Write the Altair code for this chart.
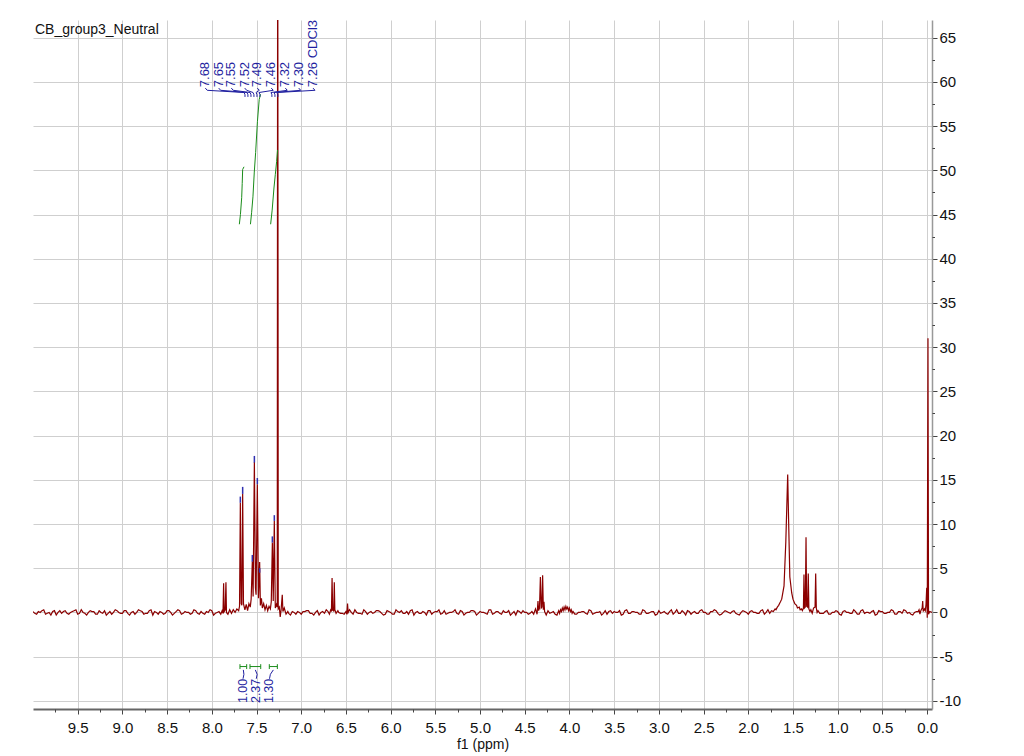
import altair as alt
import pandas as pd

FONT = "Liberation Sans"
RED = "#8b0000"
BLUE = "#1f1fa0"
GREEN = "#1a8c1a"

# ---------------- data ----------------
# baseline noise (tenths of an intensity unit), two interleaved samplings:
# list a at 10.00, 9.96, ... ppm; list b at 9.98, 9.94, ... ppm
base_start = 10.0
base_step = 0.04
base_noise_tenths_a = [
    1, -2, 0, 3, -1, -3, 2, 0, -1, 2, -2, 1, 3, -1, 0, -3, 2, 1, -2, 0, 2, -1, -2, 3, 0,
    -1, 2, -3, 1, 0, 2, -2, -1, 3, 1, -2, 0, -1, 2, -3, 1, 2, -1, 0, -2, 3, -1, 1, -2, 0,
    2, -1, -2, 1, 3, -2, 0, 1, -3, 2, 0, -1, 2, 1, -2, -1, 3, 0, -2, 1, -1, 2, -3, 0, 1,
    -2, 1, 2, -1, 0, -3, 1, 3, -2, 0, 1, -1, -2, 2, 0, 3, -1, -2, 1, 0, -1, 2, 1, -3, 2,
    0, -2, 1, 2, -1, -2, 3, 0, -1, 1, -3, 2, 0, 1, -2, 2, -1, 0, 3, -2, 1, -1, 0, 2, -3,
    1, 0, -2, 3, -1, 1, -2, 0, 2, -1, -3, 1, 2, 0, -1, 2, -2, 1, -1, 3, 0, -2, 1, -1, 2,
    -1, 3, -2, 0, 1, -2, 2, -1, 0, -3, 2, 1, -1, 0, 2, -2, 3, -1, 1, 0, -2, 2, -1, 1, -3,
    2, 0, -1, 1, -2, 3, -1, 0, 2, -2, 1, -1, 3, 0, -2, 1, 2, -3, 0, 1, -1, 2, -2, 0, 1,
    -2, 2, 0, -1, 3, -2, 1, 0, -1, 2, -3, 1, 0, 2, -1, -2, 3, 1, -2, 0, 1, -1, 2, -2, 0,
    1, -3, 2, 0, -1, 1, -2, 3, 0, -1, 2, -2, 1, -1, 0, 3, -2, 1, -1, 2, 0, -3, 1, 2, -1,
    0,
]
base_noise_tenths_b = [
    -1, 1, 2, -2, 0, 1, -3, 2, 1, -1, 0, 2, -2, 3, -1, 0, 1, -2, 2, -1, -3, 1, 0, 2, -1,
    2, -1, 0, -2, 3, 1, -1, 2, -3, 0, 1, -2, 2, 0, -1, 3, -2, 1, 0, -1, 2, -2, -1, 1, 3,
    -3, 0, 2, 1, -1, -2, 2, 0, -1, 3, -2, 1, 1, -1, 0, -2, 2, -3, 1, 0, 2, -1, 1, -2, 0,
    1, 2, -1, -3, 2, 0, -1, 1, 3, -2, 0, -1, 2, 1, -2, 0, -1, 3, -2, 1, 0, 2, -1, -2, 1,
    -2, 3, 0, -1, 1, 2, -3, 1, -1, 0, 2, -2, 1, 3, -1, -2, 0, 1, -1, 2, -3, 0, 2, 1, -1,
    0, -1, 3, -2, 1, -1, 2, 0, -3, 1, 2, -1, 0, -2, 3, 1, -1, 0, 2, -2, 1, -3, 2, 0, 1,
    2, -2, 0, 1, -1, 3, -2, 0, 1, -1, -2, 2, 1, 0, -3, 2, -1, 1, 0, -2, 3, -1, 0, 1, -2,
    -1, 1, -2, 3, 0, -1, 2, -3, 1, 0, -1, 2, 0, -2, 1, 3, -1, -2, 2, 0, 1, -1, -3, 2, 0,
    1, 0, -1, 2, -2, 1, 3, -1, 0, -2, 2, 1, -3, 0, 1, -1, 2, -2, 0, 3, -1, 1, -2, 0, 2,
    -2, 1, 0, -1, 3, -2, 2, -1, 0, 1, -3, 2, 1, -1, 0, 2, -2, 1, 3, -1, -2, 0, 1, -1, 2,
]

# aromatic region 7.92 - 7.15 ppm
arom_ppm = [7.92, 7.90, 7.885, 7.875, 7.868, 7.862, 7.85, 7.842, 7.836, 7.82, 7.80, 7.78,
            7.76, 7.74, 7.72, 7.70, 7.69, 7.681, 7.672, 7.664, 7.655, 7.646, 7.63, 7.615,
            7.60, 7.585, 7.57, 7.56, 7.547, 7.538, 7.524, 7.512, 7.505, 7.491, 7.478,
            7.465, 7.457, 7.445, 7.435, 7.42, 7.405, 7.39, 7.375, 7.36, 7.345, 7.335,
            7.323, 7.313, 7.301, 7.29, 7.278, 7.268, 7.263, 7.257, 7.245, 7.235, 7.225,
            7.212, 7.205, 7.19, 7.17, 7.15]
arom_val = [0.1, -0.2, 0.2, -0.1, 3.3, 0.1, 0.3, 3.4, 0.0, -0.2, 0.3, -0.1,
            0.3, 0.0, 0.4, 0.2, 0.7, 12.4, 1.0, 0.8, 13.4, 1.0, 0.3, 0.9,
            0.2, 1.0, 0.6, 1.5, 5.8, 1.8, 17.0, 2.8, 2.0, 14.5, 1.6,
            5.7, 0.8, 1.6, 0.5, 1.0, 0.3, 0.8, 0.2, 0.7, 0.4, 1.2,
            7.9, 1.3, 10.35, 0.5, 0.9, 0.6, 90.0, 0.4, 0.6, -0.5, 0.3,
            2.0, 0.1, 0.5, -0.2, 0.1]

d66_ppm = [6.70, 6.685, 6.67, 6.662, 6.655, 6.648, 6.64, 6.636, 6.630, 6.624, 6.61, 6.59]
d66_val = [0.1, -0.2, 0.3, 0.2, 3.9, 0.2, 0.4, 0.1, 3.4, 0.3, -0.1, 0.2]

s648_ppm = [6.50, 6.49, 6.482, 6.475, 6.46]
s648_val = [0.1, -0.2, 1.0, 0.0, 0.3]

q43_ppm = [4.42, 4.40, 4.38, 4.362, 4.352, 4.345, 4.335, 4.325, 4.316, 4.308, 4.30,
           4.292, 4.285, 4.278, 4.26, 4.24, 4.22]
q43_val = [0.1, -0.2, 0.4, -0.2, 1.3, 0.2, 0.5, 4.0, 0.5, 0.6, 4.2,
           0.3, 1.2, 0.1, -0.3, 0.2, -0.1]

hump_ppm = [4.12, 4.11, 4.10, 4.09, 4.08, 4.07, 4.06, 4.05, 4.04, 4.03, 4.02, 4.01,
            4.00, 3.99, 3.98, 3.97, 3.96]
hump_val = [0.2, -0.1, 0.3, 0.1, 0.5, 0.2, 0.6, 0.3, 0.7, 0.4, 0.6, 0.2,
            0.5, 0.1, 0.3, -0.1, 0.1]

ali_ppm = [1.80, 1.78, 1.76, 1.74, 1.72, 1.70, 1.69, 1.675, 1.66, 1.65, 1.64, 1.626,
           1.60, 1.58, 1.559, 1.55, 1.535, 1.514, 1.50, 1.48, 1.46, 1.45, 1.43, 1.42,
           1.405, 1.395, 1.383, 1.377, 1.371, 1.362, 1.354, 1.347, 1.336, 1.329,
           1.322, 1.31, 1.30, 1.285, 1.27, 1.253, 1.246, 1.239, 1.23, 1.22, 1.20]
ali_val = [0.0, 0.3, -0.1, 0.2, 0.1, 0.4, 0.3, 0.6, 0.8, 1.0, 1.2, 1.5,
           3.0, 8.0, 15.6, 11.0, 4.0, 2.2, 1.5, 1.0, 0.8, 0.5, 0.6, 0.3,
           0.4, 0.2, 0.5, 4.3, 0.5, 0.6, 8.5, 0.7, 0.6, 4.4,
           0.4, 0.1, 0.3, -0.1, 0.5, 0.6, 4.4, 0.5, 0.0, 0.2, -0.1]

tms_ppm = [0.10, 0.09, 0.08, 0.07, 0.065, 0.055, 0.049, 0.043, 0.03, 0.02, 0.012, 0.004,
           -0.002, -0.010, -0.016, -0.03, -0.055]
tms_val = [0.1, 0.3, -0.2, 0.2, 0.3, 0.5, 1.3, 0.1, 0.4, 0.2, 0.9, 2.8,
           -0.6, 31.0, -0.2, 0.1, 0.0]

# integral curves (green)
int1_ppm = [7.692, 7.680, 7.666, 7.660, 7.655, 7.640]
int1_val = [43.9, 45.0, 46.9, 48.5, 50.1, 50.4]
int2_ppm = [7.568, 7.555, 7.540, 7.525, 7.510, 7.490, 7.470, 7.455]
int2_val = [43.9, 45.2, 47.0, 49.8, 52.0, 55.5, 58.0, 58.6]
int3_ppm = [7.342, 7.325, 7.305, 7.290, 7.275, 7.265]
int3_val = [43.9, 45.5, 48.0, 49.5, 51.0, 52.3]

# peak picking labels
peak_labels = ["7.68", "7.65", "7.55", "7.52", "7.49", "7.46", "7.32", "7.30", "7.26 CDCl3"]
peak_label_ppm = [8.073, 7.923, 7.782, 7.632, 7.491, 7.335, 7.178, 7.028, 6.868]
peak_end_ppm = [7.629, 7.596, 7.562, 7.529, 7.495, 7.462, 7.328, 7.294, 7.261]
peak_label_y = 59.4

# blue peak markers
marker_ppm = [7.681, 7.655, 7.547, 7.524, 7.491, 7.465, 7.323, 7.301]
marker_lo = [12.4, 13.4, 5.75, 16.95, 14.5, 4.5, 7.9, 10.35]
marker_hi = [13.1, 14.2, 6.5, 17.7, 15.2, 5.0, 8.6, 11.0]

# integration ranges and values
integ_labels = ["1.00", "2.37", "1.30"]
integ_label_ppm = [7.651, 7.503, 7.355]
integ_from = [7.685, 7.573, 7.357]
integ_to = [7.610, 7.453, 7.267]
integ_label_y = -10.25

title_text = "CB_group3_Neutral"

x_major = [round(0.5 * i, 1) for i in range(20)]
x_minor = [0.25 + 0.5 * i for i in range(20)]
y_major = list(range(-10, 70, 5))
y_minor = [-7.5 + 5 * i for i in range(15)]

# ---------------- assemble ----------------
regions = [(arom_ppm, arom_val), (d66_ppm, d66_val), (s648_ppm, s648_val),
           (q43_ppm, q43_val), (hump_ppm, hump_val), (ali_ppm, ali_val), (tms_ppm, tms_val)]
bounds = [(max(p), min(p)) for p, _ in regions]
rows = []
samples = [(round(base_start - base_step * i, 4), n) for i, n in enumerate(base_noise_tenths_a)]
samples += [(round(base_start - base_step / 2 - base_step * i, 4), n)
            for i, n in enumerate(base_noise_tenths_b)]
for ppm, n in samples:
    if any(lo <= ppm <= hi for hi, lo in bounds):
        continue
    rows.append((ppm, n * 0.1))
for p, v in regions:
    rows += list(zip(p, v))
spec = pd.DataFrame(rows, columns=["ppm", "val"]).sort_values("ppm").reset_index(drop=True)

integ_rows = []
for g, (p, v) in enumerate([(int1_ppm, int1_val), (int2_ppm, int2_val), (int3_ppm, int3_val)]):
    for k, (a, b) in enumerate(zip(p, v)):
        integ_rows.append({"ppm": a, "val": b, "grp": g, "ord": k})
integ = pd.DataFrame(integ_rows)

labels_df = pd.DataFrame({"ppm": peak_label_ppm, "val": [peak_label_y] * len(peak_labels),
                          "txt": peak_labels})
conn_rows = []
for g, (lp, ep) in enumerate(zip(peak_label_ppm, peak_end_ppm)):
    pts = [(lp, 59.3), (lp - 0.022, 59.05), (ep + 0.01, 58.8), (ep, 58.55), (ep, 58.3)]
    for k, (a, b) in enumerate(pts):
        conn_rows.append({"ppm": a, "val": b, "grp": g, "ord": k})
conn = pd.DataFrame(conn_rows)

markers = pd.DataFrame({"ppm": marker_ppm, "val": marker_lo, "val2": marker_hi})

brackets = pd.DataFrame({"ppm": integ_from, "ppm2": integ_to, "val": [-6.12] * 3})
caps = pd.DataFrame({"ppm": integ_from + integ_to, "val": [-5.85] * 6, "val2": [-6.4] * 6})
integ_lab = pd.DataFrame({"ppm": integ_label_ppm, "val": [integ_label_y] * 3, "txt": integ_labels})
ilink_rows = []
for g, (lp, a, b) in enumerate(zip(integ_label_ppm, integ_from, integ_to)):
    mid = (a + b) / 2
    ilink_rows += [{"ppm": lp, "val": -7.5, "grp": g, "ord": 0},
                   {"ppm": lp - 0.01, "val": -7.0, "grp": g, "ord": 1},
                   {"ppm": mid, "val": -6.5, "grp": g, "ord": 2}]
ilink = pd.DataFrame(ilink_rows)

title_df = pd.DataFrame({"txt": [title_text]})

# ---------------- scales / encodings ----------------
xs = alt.Scale(domain=[-0.055, 10.0], reverse=True, nice=False, zero=False)
ys = alt.Scale(domain=[-10.92, 67.0], nice=False, zero=False)


def X(field="ppm", axis=None):
    return alt.X(f"{field}:Q", scale=xs, axis=axis)


def Y(field="val", axis=None):
    return alt.Y(f"{field}:Q", scale=ys, axis=axis)


x_axis = alt.Axis(values=x_major, format=".1f", orient="bottom", tickSize=5, tickColor="#444444",
                  labelFontSize=15, labelPadding=6, labelFont=FONT, labelColor="#111111",
                  labelFlush=False, title="f1 (ppm)", titleFont=FONT, titleFontSize=14,
                  titleFontWeight="normal", titleColor="#111111", titlePadding=2,
                  grid=True, gridColor="#cfcfcf", gridWidth=1,
                  domainColor="#666666", domainWidth=2)
y_axis = alt.Axis(values=y_major, orient="right", tickSize=5, tickColor="#444444",
                  labelFontSize=15, labelPadding=2, labelFont=FONT, labelColor="#111111",
                  labelExpr="toString(datum.value)", labelFlush=False, title="",
                  grid=True, gridColor="#cfcfcf", gridWidth=1,
                  domainColor="#999999", domainWidth=1.5)
x_axis_minor = alt.Axis(values=x_minor, orient="bottom", tickSize=3, tickColor="#444444",
                        labels=False, domain=False, grid=False, title="")
y_axis_minor = alt.Axis(values=y_minor, orient="right", tickSize=2.5, tickColor="#444444",
                        labels=False, domain=False, grid=False, title="")

spectrum = alt.Chart(spec).mark_line(color=RED, strokeWidth=1.2, clip=True).encode(
    x=X(axis=x_axis), y=Y(axis=y_axis), order="ppm:Q")

minor = alt.Chart(spec).mark_point(opacity=0, size=1).encode(
    x=X(axis=x_axis_minor), y=Y(axis=y_axis_minor))

integ_lines = alt.Chart(integ).mark_line(color=GREEN, strokeWidth=1, clip=True).encode(
    x=X(), y=Y(), detail="grp:N", order="ord:Q")

conn_lines = alt.Chart(conn).mark_line(color=BLUE, strokeWidth=1).encode(
    x=X(), y=Y(), detail="grp:N", order="ord:Q")

label_text = alt.Chart(labels_df).mark_text(angle=270, align="left", baseline="middle",
                                             font=FONT, fontSize=13, color=BLUE).encode(
    x=X(), y=Y(), text="txt:N")

marker_rules = alt.Chart(markers).mark_rule(color="#3030b0", strokeWidth=1.5).encode(
    x=X(), y=Y(), y2="val2:Q")

bracket_rules = alt.Chart(brackets).mark_rule(color=GREEN, strokeWidth=1).encode(
    x=X(), x2="ppm2:Q", y=Y())
cap_rules = alt.Chart(caps).mark_rule(color=GREEN, strokeWidth=1).encode(
    x=X(), y=Y(), y2="val2:Q")
ilink_lines = alt.Chart(ilink).mark_line(color=BLUE, strokeWidth=1).encode(
    x=X(), y=Y(), detail="grp:N", order="ord:Q")
integ_text = alt.Chart(integ_lab).mark_text(angle=270, align="left", baseline="middle",
                                            font=FONT, fontSize=12.5, color=BLUE).encode(
    x=X(), y=Y(), text="txt:N")

title_mark = alt.Chart(title_df).mark_text(align="left", baseline="alphabetic", font=FONT,
                                           fontSize=14, color="#111111").encode(
    x=alt.value(2), y=alt.value(14), text="txt:N")

chart = alt.layer(
    spectrum, minor, integ_lines, conn_lines, label_text, marker_rules,
    bracket_rules, cap_rules, ilink_lines, integ_text, title_mark
).resolve_axis(x="independent", y="independent").properties(
    width=899, height=689,
    padding={"left": 25, "top": 12, "right": 70, "bottom": 46},
    autosize=alt.AutoSizeParams(type="none"),
    background="white",
).configure_view(strokeWidth=0)

chart.save("out.html", embed_options={"renderer": "svg", "actions": False})
